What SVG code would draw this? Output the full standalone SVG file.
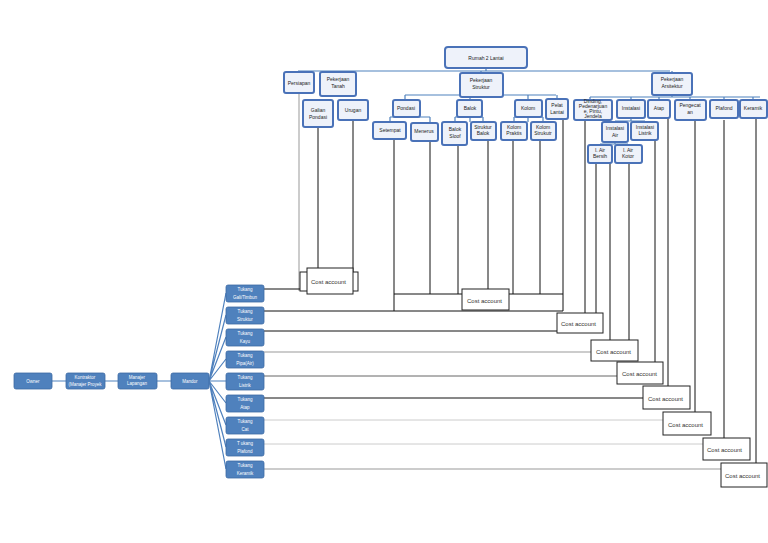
<svg xmlns="http://www.w3.org/2000/svg" width="768" height="543" viewBox="0 0 768 543">
<style>
.n{fill:#eef2fa;stroke:#4a72b8;stroke-width:2}
.b{fill:#4f81bd;stroke:#3c6aa3;stroke-width:0.8}
.t{font-family:"Liberation Sans",Arial,sans-serif;font-size:5px;fill:#222;text-anchor:middle}
.w{font-family:"Liberation Sans",Arial,sans-serif;font-size:4.5px;fill:#fff;text-anchor:middle}
.ca{fill:#fff;stroke:#222;stroke-width:1}
.ct{font-family:"Liberation Sans",Arial,sans-serif;font-size:6px;fill:#333}
.k{stroke:#111;stroke-width:1;fill:none}
.g{stroke:#999;stroke-width:1;fill:none}
.bl{stroke:#4f81bd;stroke-width:1.2;fill:none}
</style>
<rect width="768" height="543" fill="#fff"/>
<g id="connectors">
<path class="bl" d="M486 68V71M298 71H670M298 71V72M338 71V72M481 71V73M672 71V73M481 97V95M405 95H556M405 95V100M470 95V100M528 95V100M557 95V99M405 117H390M390 117V122M430 117V123M390 117H430M470 117V122M455 117H483M455 117V122M483 117V122M528 117V122M514 117H543M514 117V122M543 117V122M672 95V97M590 97H760M590 97V100M631 97V100M659 97V100M690 97V100M724 97V100M753 97V100M631 118V121M615 121H645M615 121V122M645 121V122M615 142V144M600 144H628M600 144V145M628 144V145"/>
<path class="g" d="M299 93V291"/>
<path class="k" d="M318 127V268M353 120V291M394 139V311M430 141V294M458 145V294M488 140V289M513 140V294M540 140V294M563 119V311M394 294H563M264 311H563"/>
<path class="k" d="M585 120V313M596 163V313M610 163V340M629 163V340M655 140V362M668 118V386M695 120V412M724 120V438M756 118V463"/>
<path class="k" d="M264 289H300M264 331H557M264 398H643"/>
<path class="g" d="M264 352H591M264 469H721"/>
<path d="M264 376H617" stroke="#666" stroke-width="1"/>
<path d="M264 420H663M264 444H703" stroke="#ccc" stroke-width="1"/>
<path class="bl" d="M52 381H66M105 381H118M157 381H171M209 381H226M209 381L226 293M209 381L226 315M209 381L226 337M209 381L226 359M209 381L226 403M209 381L226 425M209 381L226 447M209 381L226 469"/>
</g>
<g id="top">
<rect class="n" x="445" y="47" width="82" height="21" rx="3"/><text class="t" x="486" y="60" font-size="6">Rumah 2 Lantai</text>
<rect class="n" x="284" y="72" width="30" height="21" rx="2"/><text class="t" x="299" y="85">Persiapan</text>
<rect class="n" x="320" y="72" width="36" height="24" rx="2"/><text class="t" x="338" y="81">Pekerjaan</text><text class="t" x="338" y="88">Tanah</text>
<rect class="n" x="460" y="73" width="43" height="24" rx="2"/><text class="t" x="481" y="82">Pekerjaan</text><text class="t" x="481" y="89">Struktur</text>
<rect class="n" x="652" y="73" width="40" height="22" rx="2"/><text class="t" x="672" y="81">Pekerjaan</text><text class="t" x="672" y="88">Arsitektur</text>
<rect class="n" x="303" y="100" width="30" height="27" rx="2"/><text class="t" x="318" y="112">Galian</text><text class="t" x="318" y="119">Pondasi</text>
<rect class="n" x="338" y="100" width="30" height="20" rx="2"/><text class="t" x="353" y="112">Urugan</text>
<rect class="n" x="393" y="100" width="27" height="17" rx="2"/><text class="t" x="406" y="110">Pondasi</text>
<rect class="n" x="457" y="100" width="25" height="17" rx="2"/><text class="t" x="470" y="110">Balok</text>
<rect class="n" x="515" y="100" width="27" height="17" rx="2"/><text class="t" x="528" y="110">Kolom</text>
<rect class="n" x="546" y="99" width="22" height="20" rx="2"/><text class="t" x="557" y="107">Pelat</text><text class="t" x="557" y="114">Lantai</text>
<rect class="n" x="373" y="122" width="33" height="17" rx="2"/><text class="t" x="390" y="132">Setempat</text>
<rect class="n" x="411" y="123" width="27" height="18" rx="2"/><text class="t" x="424" y="133">Menerus</text>
<rect class="n" x="442" y="122" width="25" height="23" rx="2"/><text class="t" x="455" y="131">Balok</text><text class="t" x="455" y="138">Sloof</text>
<rect class="n" x="471" y="122" width="25" height="18" rx="2"/><text class="t" x="483" y="129">Struktur</text><text class="t" x="483" y="135">Balok</text>
<rect class="n" x="501" y="122" width="26" height="18" rx="2"/><text class="t" x="514" y="129">Kolom</text><text class="t" x="514" y="135">Praktis</text>
<rect class="n" x="531" y="122" width="25" height="18" rx="2"/><text class="t" x="543" y="129">Kolom</text><text class="t" x="543" y="135">Strukutr</text>
<rect class="n" x="574" y="100" width="38" height="20" rx="2"/><text class="t" x="593" y="103" font-size="4">Dinding,</text><text class="t" x="593" y="108" font-size="4">Pedenarjuan</text><text class="t" x="593" y="113" font-size="4">e, Pintu,</text><text class="t" x="593" y="118" font-size="4">Jendela</text>
<rect class="n" x="617" y="100" width="28" height="18" rx="2"/><text class="t" x="631" y="110">Instalasi</text>
<rect class="n" x="648" y="100" width="22" height="18" rx="2"/><text class="t" x="659" y="110">Atap</text>
<rect class="n" x="675" y="100" width="31" height="20" rx="2"/><text class="t" x="690" y="107">Pengecat</text><text class="t" x="690" y="114">an</text>
<rect class="n" x="710" y="100" width="28" height="18" rx="2"/><text class="t" x="724" y="110">Plafond</text>
<rect class="n" x="740" y="100" width="27" height="18" rx="2"/><text class="t" x="753" y="110">Keramik</text>
<rect class="n" x="602" y="122" width="26" height="20" rx="2"/><text class="t" x="615" y="130">Instalasi</text><text class="t" x="615" y="137">Air</text>
<rect class="n" x="631" y="122" width="27" height="18" rx="2"/><text class="t" x="645" y="129">Instalasi</text><text class="t" x="645" y="135">Listrik</text>
<rect class="n" x="588" y="145" width="24" height="18" rx="2"/><text class="t" x="600" y="152">I. Air</text><text class="t" x="600" y="158">Bersih</text>
<rect class="n" x="615" y="145" width="27" height="18" rx="2"/><text class="t" x="628" y="152">I. Air</text><text class="t" x="628" y="158">Kotor</text>
</g>
<g id="left">
<rect class="b" x="14" y="373" width="38" height="16" rx="2"/><text class="w" x="33" y="383">Owner</text>
<rect class="b" x="66" y="373" width="39" height="16" rx="2"/><text class="w" x="85" y="379">Kontraktor</text><text class="w" x="85" y="386">(Manajer Proyek</text>
<rect class="b" x="118" y="373" width="39" height="16" rx="2"/><text class="w" x="137" y="379">Manajer</text><text class="w" x="137" y="385">Lapangan</text>
<rect class="b" x="171" y="373" width="38" height="16" rx="2"/><text class="w" x="190" y="383">Mandor</text>
<rect class="b" x="226" y="285" width="38" height="17" rx="2"/><text class="w" x="245" y="291">Tukang</text><text class="w" x="245" y="299">Gali/Timbun</text>
<rect class="b" x="226" y="307" width="38" height="17" rx="2"/><text class="w" x="245" y="313">Tukang</text><text class="w" x="245" y="321">Struktur</text>
<rect class="b" x="226" y="329" width="38" height="17" rx="2"/><text class="w" x="245" y="335">Tukang</text><text class="w" x="245" y="343">Kayu</text>
<rect class="b" x="226" y="351" width="38" height="17" rx="2"/><text class="w" x="245" y="357">Tukang</text><text class="w" x="245" y="365">Pipa(Air)</text>
<rect class="b" x="226" y="373" width="38" height="17" rx="2"/><text class="w" x="245" y="379">Tukang</text><text class="w" x="245" y="387">Listrik</text>
<rect class="b" x="226" y="395" width="38" height="17" rx="2"/><text class="w" x="245" y="401">Tukang</text><text class="w" x="245" y="409">Atap</text>
<rect class="b" x="226" y="417" width="38" height="17" rx="2"/><text class="w" x="245" y="423">Tukang</text><text class="w" x="245" y="431">Cat</text>
<rect class="b" x="226" y="439" width="38" height="17" rx="2"/><text class="w" x="245" y="445">T ukang</text><text class="w" x="245" y="453">Plafond</text>
<rect class="b" x="226" y="461" width="38" height="17" rx="2"/><text class="w" x="245" y="467">Tukang</text><text class="w" x="245" y="475">Keramik</text>
</g>
<g id="cost">
<rect class="ca" x="300" y="272" width="58" height="19" stroke="#555"/>
<rect class="ca" x="307" y="268" width="46" height="26"/><text class="ct" x="311" y="284">Cost account</text>
<rect class="ca" x="462" y="289" width="47" height="21"/><text class="ct" x="467" y="303">Cost account</text>
<rect class="ca" x="557" y="313" width="46" height="20"/><text class="ct" x="561" y="326">Cost account</text>
<rect class="ca" x="591" y="340" width="47" height="21"/><text class="ct" x="596" y="354">Cost account</text>
<rect class="ca" x="617" y="362" width="46" height="22"/><text class="ct" x="622" y="376">Cost account</text>
<rect class="ca" x="643" y="386" width="47" height="23"/><text class="ct" x="648" y="401">Cost account</text>
<rect class="ca" x="663" y="412" width="48" height="23"/><text class="ct" x="668" y="427">Cost account</text>
<rect class="ca" x="703" y="438" width="47" height="22"/><text class="ct" x="707" y="452">Cost account</text>
<rect class="ca" x="721" y="463" width="46" height="24"/><text class="ct" x="725" y="478">Cost account</text>
</g>
</svg>
